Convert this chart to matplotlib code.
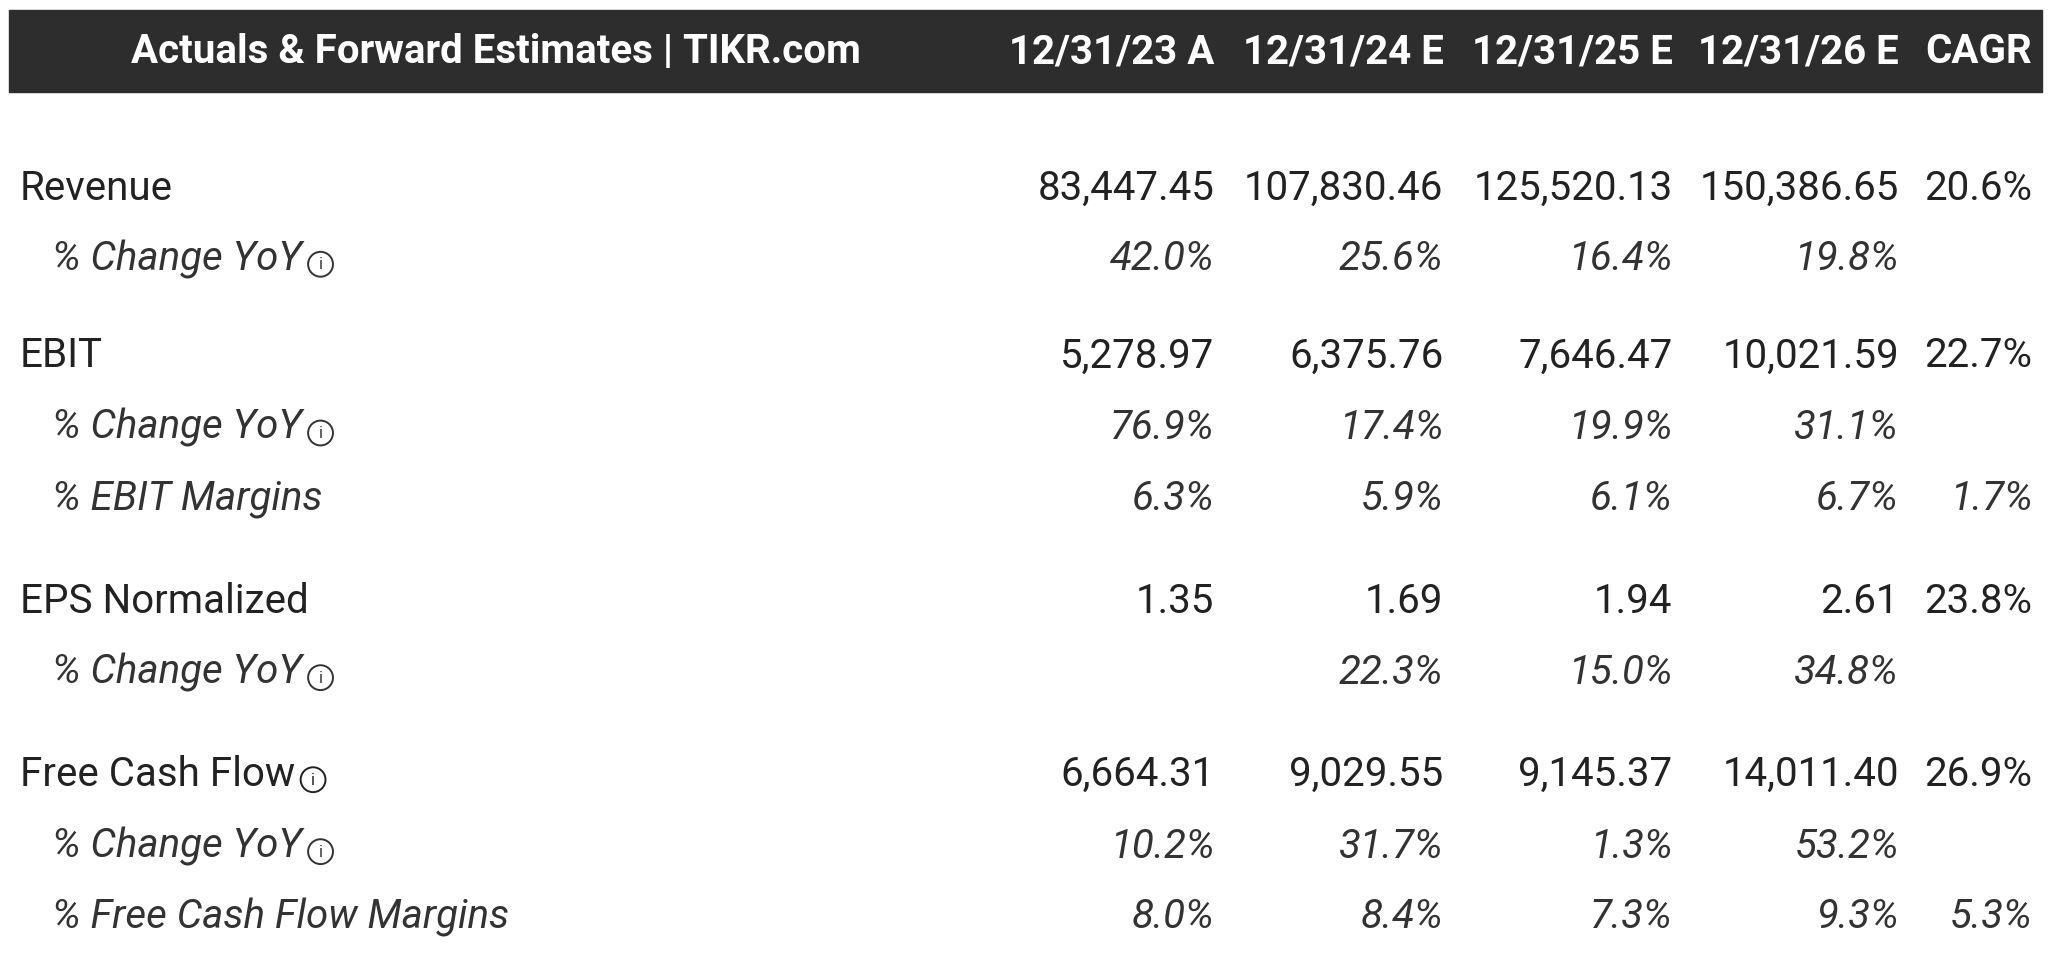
import matplotlib
matplotlib.use("Agg")
import matplotlib.pyplot as plt
from matplotlib.patches import Rectangle, Circle

plt.rcParams['font.family'] = ['Roboto', 'DejaVu Sans']

title = "Actuals & Forward Estimates | TIKR.com"
columns = ["12/31/23 A", "12/31/24 E", "12/31/25 E", "12/31/26 E", "CAGR"]

# (label, is_sub_row, has_info_icon, values, cagr)
rows = [
    ("Revenue", False, False, ["83,447.45", "107,830.46", "125,520.13", "150,386.65"], "20.6%"),
    ("% Change YoY", True, True, ["42.0%", "25.6%", "16.4%", "19.8%"], ""),
    ("EBIT", False, False, ["5,278.97", "6,375.76", "7,646.47", "10,021.59"], "22.7%"),
    ("% Change YoY", True, True, ["76.9%", "17.4%", "19.9%", "31.1%"], ""),
    ("% EBIT Margins", True, False, ["6.3%", "5.9%", "6.1%", "6.7%"], "1.7%"),
    ("EPS Normalized", False, False, ["1.35", "1.69", "1.94", "2.61"], "23.8%"),
    ("% Change YoY", True, True, ["", "22.3%", "15.0%", "34.8%"], ""),
    ("Free Cash Flow", False, True, ["6,664.31", "9,029.55", "9,145.37", "14,011.40"], "26.9%"),
    ("% Change YoY", True, True, ["10.2%", "31.7%", "1.3%", "53.2%"], ""),
    ("% Free Cash Flow Margins", True, False, ["8.0%", "8.4%", "7.3%", "9.3%"], "5.3%"),
]
row_y = [144, 198, 272, 327, 381, 460, 514, 592, 647, 701]
col_right = [928, 1103, 1278, 1451, 1553]

fig = plt.figure(figsize=(20.52, 9.72), dpi=100)
ax = fig.add_axes([0, 0, 1, 1])
ax.set_xlim(0, 1568)
ax.set_ylim(743, 0)
ax.axis("off")

fs = 29
ax.add_patch(Rectangle((7, 8), 1553, 62, color="#2d2d2d"))
ax.text(658, 40, title, color="white", fontsize=fs, fontweight="bold", ha="right", va="center")
for c, x in zip(columns, col_right):
    ax.text(x, 40, c, color="white", fontsize=fs, fontweight="bold", ha="right", va="center")

fig.canvas.draw()
for (label, sub, info, vals, cagr), y in zip(rows, row_y):
    style = "italic" if sub else "normal"
    color = "#333333" if sub else "#222222"
    x0 = 40 if sub else 15
    t = ax.text(x0, y, label, fontsize=fs, style=style, color=color, ha="left", va="center")
    if info:
        bb = t.get_window_extent(renderer=fig.canvas.get_renderer()).transformed(ax.transData.inverted())
        cx = bb.x1 + 14
        ax.add_patch(Circle((cx, y + 4), 9.5, fill=False, ec=color, lw=1.4))
        ax.text(cx, y + 4.5, "i", fontsize=12, color=color, ha="center", va="center")
    for v, x in zip(vals + [cagr], col_right):
        ax.text(x, y, v, fontsize=fs, style=style, color=color, ha="right", va="center")

fig.savefig("out.png", dpi=100, facecolor="white")
